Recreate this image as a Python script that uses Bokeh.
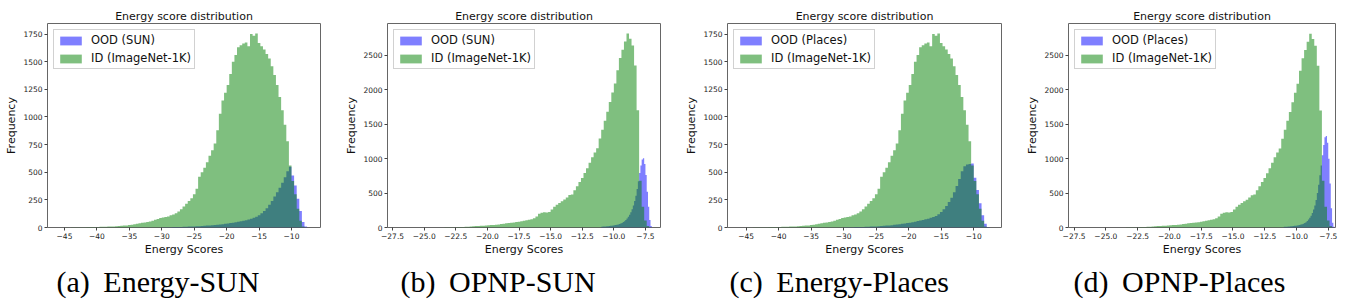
import numpy as np
from bokeh.plotting import figure
from bokeh.layouts import row
from bokeh.models import FixedTicker, Range1d, Title
from bokeh.embed import file_html
from bokeh.resources import INLINE

# ---------------- data ----------------
# Energy score, ID (ImageNet-1K): bins of 0.4 starting at -46.4
energy_id_start = -46.4
energy_bin_w = 0.4
energy_id_counts = [
    1, 1, 1, 1, 2, 1, 2, 2, 2, 3,
    3, 3, 4, 4, 4, 5, 5, 6, 6, 7,
    8, 9, 10, 12, 13, 15, 17, 19, 22, 24,
    30, 34, 38, 42, 45, 50, 55, 62, 70, 78,
    85, 90, 95, 100, 110, 118, 128, 145, 165, 190,
    215, 240, 265, 300, 350, 460, 500, 540, 590, 650,
    700, 760, 880, 1030, 1150, 1220, 1290, 1390, 1500, 1560,
    1630, 1650, 1665, 1675, 1640, 1750, 1735, 1755, 1670, 1640,
    1610, 1570, 1530, 1460, 1380, 1290, 1180, 1060, 930, 780,
    560, 420, 300, 170, 60, 10,
]
# Energy score, OOD: bins of 0.4 starting at -30.0
energy_ood_start = -30.0
energy_sun_counts = [
    2, 2, 3, 3, 4, 4, 5, 5, 6, 7,
    8, 9, 10, 11, 12, 14, 15, 17, 19, 21,
    23, 25, 28, 30, 33, 36, 40, 44, 48, 52,
    56, 60, 66, 72, 80, 88, 98, 110, 130, 150,
    175, 205, 240, 280, 320, 360, 405, 455, 510, 550,
    470, 380, 260, 150, 50, 10,
]
energy_places_counts = [
    2, 2, 3, 3, 4, 4, 5, 5, 6, 7,
    8, 9, 10, 12, 13, 15, 17, 19, 21, 24,
    27, 30, 33, 36, 40, 44, 48, 53, 58, 63,
    68, 74, 80, 88, 96, 105, 120, 140, 165, 195,
    230, 270, 320, 375, 440, 510, 555, 570, 575, 580,
    450, 340, 220, 110, 35, 5,
]
# OPNP score, ID (ImageNet-1K): bins of 0.2 starting at -27.4
opnp_id_start = -27.4
opnp_id_w = 0.2
opnp_id_counts = [
    0, 0, 1, 0, 0, 0, 1, 0, 0, 0,
    1, 0, 0, 1, 0, 1, 1, 0, 1, 1,
    3, 3, 4, 4, 5, 6, 7, 8, 10, 12,
    14, 17, 20, 22, 25, 27, 30, 32, 35, 38,
    40, 45, 50, 55, 60, 64, 68, 72, 78, 85,
    92, 98, 105, 112, 120, 135, 160, 200, 215, 220,
    218, 225, 260, 300, 330, 355, 380, 405, 435, 470,
    480, 540, 600, 660, 720, 790, 860, 940, 1020, 1090,
    1150, 1290, 1420, 1550, 1680, 1820, 1960, 2090, 2280, 2460,
    2580, 2700, 2815, 2740, 2640, 2350, 1700, 680, 300, 100,
    20,
]
# OPNP score, OOD: bins of 0.1 starting at -11.0
opnp_ood_start = -11.0
opnp_ood_w = 0.1
opnp_sun_counts = [
    12, 13, 15, 16, 18, 19, 21, 24, 26, 29,
    32, 36, 40, 45, 50, 57, 65, 78, 92, 110,
    130, 155, 185, 220, 265, 320, 385, 460, 560, 670,
    790, 900, 985, 1005, 920, 760, 520, 300, 110, 20,
]
opnp_places_counts = [
    10, 11, 12, 14, 15, 17, 19, 21, 24, 27,
    30, 34, 38, 43, 49, 56, 65, 78, 95, 115,
    140, 170, 210, 260, 320, 400, 500, 620, 760, 900,
    1050, 1200, 1310, 1330, 1230, 1000, 640, 280, 70, 10,
]

energy_xticks = [-45, -40, -35, -30, -25, -20, -15, -10]
energy_xlabels = ["\u221245", "\u221240", "\u221235", "\u221230", "\u221225", "\u221220", "\u221215", "\u221210"]
opnp_xticks = [-27.5, -25.0, -22.5, -20.0, -17.5, -15.0, -12.5, -10.0, -7.5]
opnp_xlabels = ["\u221227.5", "\u221225.0", "\u221222.5", "\u221220.0", "\u221217.5",
                "\u221215.0", "\u221212.5", "\u221210.0", "\u22127.5"]
energy_yticks = [0, 250, 500, 750, 1000, 1250, 1500, 1750]
opnp_yticks = [0, 500, 1000, 1500, 2000, 2500]

title_text = "Energy score distribution"
xlabel_text = "Energy Scores"
ylabel_text = "Frequency"
id_label = "ID (ImageNet-1K)"
captions = ["(a)\u2009 Energy-SUN", "(b)\u2009 OPNP-SUN", "(c)\u2009 Energy-Places", "(d)\u2009 OPNP-Places"]
ood_labels = ["OOD (SUN)", "OOD (Places)"]

FONT = "DejaVu Sans"
SERIF = "Liberation Serif"


def step_polygon(start, w, counts):
    xs = [start]
    ys = [0]
    for i, c in enumerate(counts):
        x0 = start + i * w
        xs += [x0, x0 + w]
        ys += [c, c]
    xs.append(start + len(counts) * w)
    ys.append(0)
    return xs, ys


def make_panel(caption, xr, yr, xticks, xlabels, yticks,
               id_start, id_w, id_counts, ood_start, ood_w, ood_counts, ood_label,
               width, frame_w, cap_offset):
    border_left = 47
    p = figure(width=width, height=304, output_backend="svg", toolbar_location=None,
               x_range=Range1d(*xr), y_range=Range1d(*yr),
               min_border_left=border_left, min_border_right=width - border_left - frame_w,
               min_border_top=23, min_border_bottom=77,
               title=title_text)
    p.title.text_font = FONT
    p.title.text_font_size = "11px"
    p.title.text_font_style = "normal"
    p.title.align = "center"
    p.title.standoff = 2
    p.title.text_color = "#111111"

    xs, ys = step_polygon(ood_start, ood_w, ood_counts)
    p.patch(xs, ys, fill_color="blue", fill_alpha=0.5, line_color=None, legend_label=ood_label)
    xs, ys = step_polygon(id_start, id_w, id_counts)
    p.patch(xs, ys, fill_color="green", fill_alpha=0.5, line_color=None, legend_label=id_label)

    p.xgrid.visible = False
    p.ygrid.visible = False
    p.outline_line_color = "#666666"
    p.outline_line_width = 1
    p.background_fill_color = "white"
    p.border_fill_color = "white"

    p.xaxis.ticker = FixedTicker(ticks=xticks)
    p.xaxis.major_label_overrides = {t: l for t, l in zip(xticks, xlabels)}
    p.yaxis.ticker = FixedTicker(ticks=yticks)
    for ax in (p.xaxis[0], p.yaxis[0]):
        ax.axis_line_color = None
        ax.major_tick_out = 3
        ax.major_tick_in = 0
        ax.minor_tick_line_color = None
        ax.major_tick_line_color = "#444444"
        ax.major_label_text_font = FONT
        ax.major_label_text_font_size = "7.5px"
        ax.major_label_text_color = "#222222"
        ax.major_label_standoff = 2
        ax.axis_label_text_font = FONT
        ax.axis_label_text_font_size = "11px"
        ax.axis_label_text_font_style = "normal"
        ax.axis_label_text_color = "#111111"
        ax.axis_label_standoff = 2
    p.xaxis.axis_label = xlabel_text
    p.yaxis.axis_label = ylabel_text
    p.xaxis.axis_label_standoff = 1

    lg = p.legend[0]
    lg.location = "top_left"
    lg.margin = 6
    lg.padding = 3
    lg.spacing = 4
    lg.glyph_width = 27
    lg.glyph_height = 11
    lg.label_height = 11
    lg.label_standoff = 7
    lg.label_text_font = FONT
    lg.label_text_font_size = "11.5px"
    lg.label_text_color = "#111111"
    lg.border_line_color = "#cccccc"
    lg.border_line_alpha = 0.9
    lg.background_fill_alpha = 0.85

    cap = Title(text=caption, text_font=SERIF, text_font_size="30px", text_font_style="normal",
                align="left", standoff=9, offset=cap_offset, text_color="black")
    p.add_layout(cap, "below")
    return p


p1 = make_panel(captions[0], (-47.62, -5.53), (0, 1846), energy_xticks, energy_xlabels, energy_yticks,
                energy_id_start, energy_bin_w, energy_id_counts,
                energy_ood_start, energy_bin_w, energy_sun_counts, ood_labels[0],
                340, 273, 9)
p2 = make_panel(captions[1], (-27.9, -6.31), (0, 2960), opnp_xticks, opnp_xlabels, opnp_yticks,
                opnp_id_start, opnp_id_w, opnp_id_counts,
                opnp_ood_start, opnp_ood_w, opnp_sun_counts, ood_labels[0],
                340, 273, 13)
p3 = make_panel(captions[2], (-47.88, -5.73), (0, 1846), energy_xticks, energy_xlabels, energy_yticks,
                energy_id_start, energy_bin_w, energy_id_counts,
                energy_ood_start, energy_bin_w, energy_places_counts, ood_labels[1],
                341, 274, 2)
p4 = make_panel(captions[3], (-27.94, -6.93), (0, 2965), opnp_xticks, opnp_xlabels, opnp_yticks,
                opnp_id_start, opnp_id_w, opnp_id_counts,
                opnp_ood_start, opnp_ood_w, opnp_places_counts, ood_labels[1],
                329, 267, 5)

layout = row(p1, p2, p3, p4, spacing=0)
open("out.html", "w").write(file_html(layout, INLINE))
